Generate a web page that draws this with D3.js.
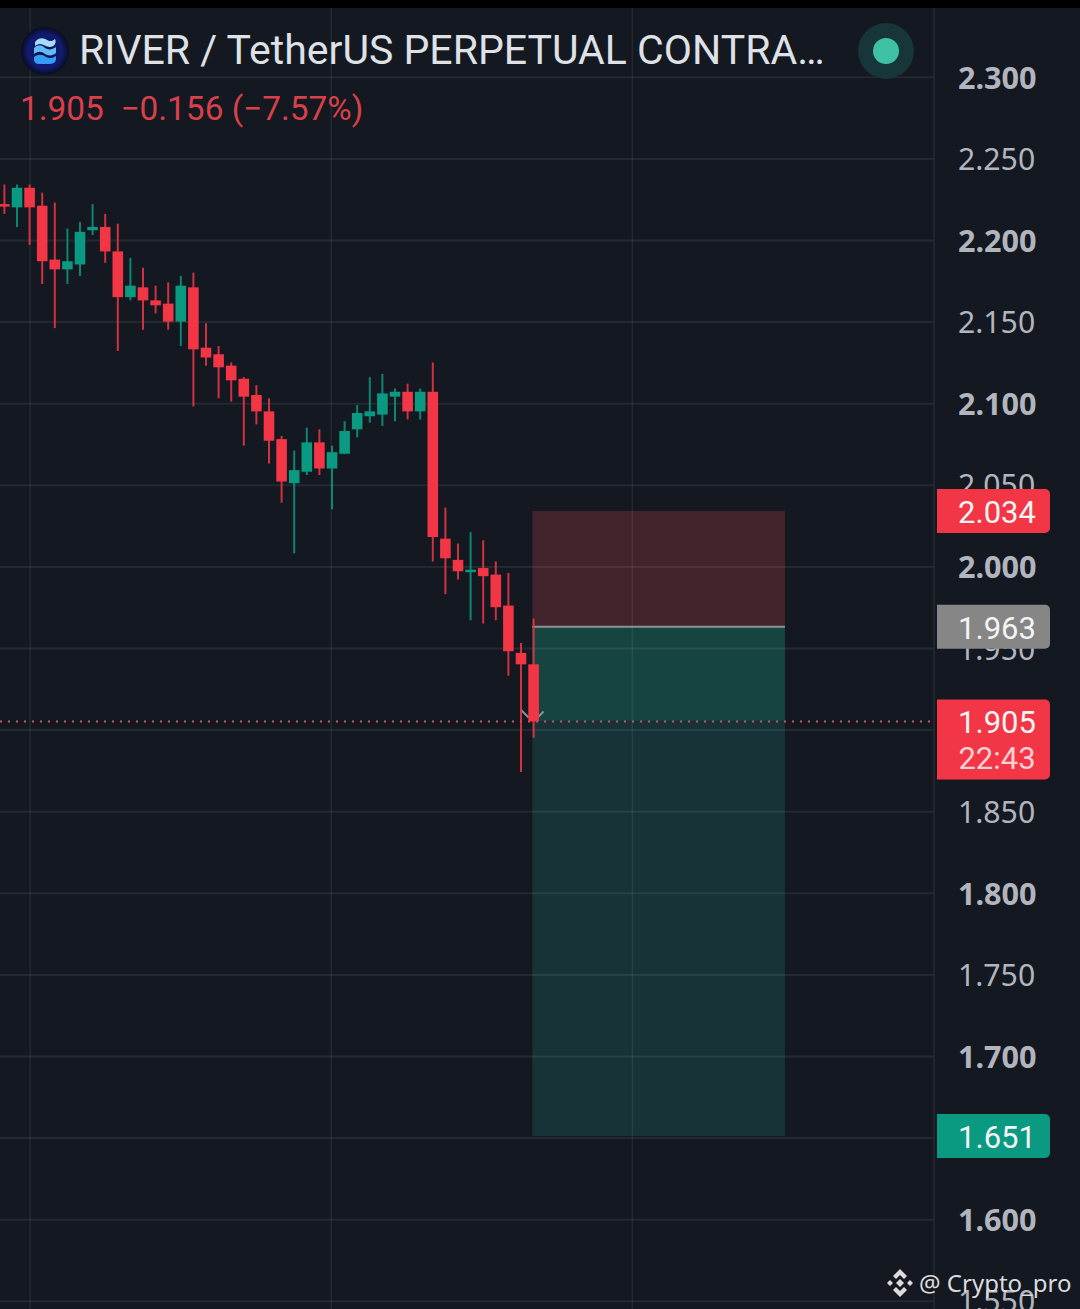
<!DOCTYPE html>
<html>
<head>
<meta charset="utf-8">
<script src="https://cdn.jsdelivr.net/npm/d3@7"></script>
<style>
  html, body { margin: 0; padding: 0; background: #141821; }
  svg { display: block; }
</style>
</head>
<body>
<div id="chart"></div>
<script>
// candles, oldest first
const opens = [2.222,2.220,2.232,2.221,2.188,2.182,2.185,2.206,2.208,2.193,2.165,2.171,2.163,2.161,2.150,2.171,2.134,2.130,2.123,2.115,2.105,2.095,2.078,2.051,2.058,2.076,2.060,2.069,2.084,2.092,2.093,2.104,2.107,2.095,2.107,2.017,2.004,1.997,1.999,1.995,1.976,1.947,1.940];
const highs = [2.234,2.234,2.234,2.229,2.223,2.207,2.211,2.222,2.216,2.210,2.189,2.183,2.172,2.174,2.178,2.180,2.149,2.135,2.125,2.116,2.111,2.103,2.080,2.071,2.085,2.084,2.074,2.089,2.099,2.116,2.118,2.109,2.112,2.109,2.125,2.036,2.014,2.021,2.016,2.003,1.996,1.953,1.968];
const lows = [2.216,2.208,2.197,2.173,2.146,2.173,2.178,2.203,2.186,2.132,2.163,2.145,2.155,2.145,2.135,2.098,2.123,2.103,2.101,2.074,2.087,2.063,2.039,2.008,2.056,2.056,2.035,2.069,2.079,2.088,2.086,2.089,2.090,2.090,2.003,1.983,1.992,1.967,1.965,1.967,1.933,1.874,1.895];
const closes = [2.221,2.232,2.220,2.187,2.182,2.187,2.205,2.208,2.193,2.165,2.172,2.163,2.160,2.150,2.172,2.133,2.128,2.122,2.114,2.104,2.095,2.077,2.052,2.059,2.076,2.060,2.070,2.083,2.094,2.095,2.106,2.107,2.095,2.107,2.018,2.005,1.997,1.998,1.994,1.975,1.948,1.940,1.905];

const priceTicks = [2.3,2.25,2.2,2.15,2.1,2.05,2,1.95,1.9,1.85,1.8,1.75,1.7,1.65,1.6,1.55];
const boldTicks = [2.3,2.2,2.1,2,1.8,1.7,1.6];
const timeGrid = [2,25.9,49.8];

const lastPrice = 1.905;
const stopPrice = 2.034;
const entryPrice = 1.963;
const targetPrice = 1.651;
const zoneStart = 41.9;
const zoneEnd = 61.95;

const titleText = "RIVER / TetherUS PERPETUAL CONTRA\u2026";
const quoteText = "1.905  \u22120.156 (\u22127.57%)";
const countdown = "22:43";

const width = 1080, height = 1309;
const axisX = 934;
const red = "#f23645", green = "#0a9981";

const x = d3.scaleLinear().domain([0, 42]).range([4.4, 533.6]);
const y = d3.scaleLinear().domain([2.2, 1.6]).range([240, 1219.2]);
const fmt = d3.format(".3f");

const svg = d3.select("#chart").append("svg")
    .attr("width", width)
    .attr("height", height)
    .style("font-family", "Roboto, sans-serif");

svg.append("rect").attr("width", width).attr("height", height).attr("fill", "#141821");

// position zones
const zones = [
    {top: stopPrice, bottom: entryPrice, fill: "#42232b"},
    {top: entryPrice, bottom: lastPrice, fill: "#16453f"},
    {top: lastPrice, bottom: targetPrice, fill: "#173338"}
];
svg.selectAll(".zone").data(zones).join("rect")
    .attr("class", "zone")
    .attr("x", x(zoneStart))
    .attr("width", x(zoneEnd) - x(zoneStart))
    .attr("y", d => y(d.top))
    .attr("height", d => y(d.bottom) - y(d.top))
    .attr("fill", d => d.fill);

// grid goes over the zones, they show through in the original
svg.append("g")
    .call(d3.axisLeft(y).tickValues(priceTicks).tickSize(-axisX).tickFormat(""))
    .call(g => g.select(".domain").remove())
    .call(g => g.selectAll("line").attr("stroke", "#fff").attr("stroke-opacity", 0.07).attr("stroke-width", 2));

svg.append("g")
    .attr("transform", `translate(0,${height})`)
    .call(d3.axisTop(x).tickValues(timeGrid).tickSize(height).tickFormat(""))
    .call(g => g.select(".domain").remove())
    .call(g => g.selectAll("line").attr("stroke", "#fff").attr("stroke-opacity", 0.07).attr("stroke-width", 1.5));

svg.append("line")
    .attr("x1", axisX).attr("x2", axisX)
    .attr("y1", 0).attr("y2", height)
    .attr("stroke", "#252933").attr("stroke-width", 1.5);

svg.append("line")
    .attr("x1", x(zoneStart)).attr("x2", x(zoneEnd))
    .attr("y1", y(entryPrice)).attr("y2", y(entryPrice))
    .attr("stroke", "#8f9291").attr("stroke-width", 2);

// last price line
svg.append("line")
    .attr("x1", 0).attr("x2", axisX)
    .attr("y1", y(lastPrice)).attr("y2", y(lastPrice))
    .attr("stroke", "#c9555f").attr("stroke-width", 2)
    .attr("stroke-dasharray", "2 6");

// small arrow behind the last candle
const arrowX = x(42), arrowY = y(lastPrice);
svg.append("path")
    .attr("d", `M${arrowX - 13},${arrowY - 12}L${arrowX - 5},${arrowY - 4}M${arrowX + 10},${arrowY - 10}L${arrowX + 4},${arrowY - 4}`)
    .attr("fill", "none").attr("stroke", "#8d8f92").attr("stroke-width", 2);

// candles
const candles = d3.range(opens.length);
const colorOf = i => closes[i] >= opens[i] ? green : red;

svg.selectAll(".wick").data(candles).join("line")
    .attr("class", "wick")
    .attr("x1", i => x(i)).attr("x2", i => x(i))
    .attr("y1", i => y(highs[i])).attr("y2", i => y(lows[i]))
    .attr("stroke", colorOf).attr("stroke-opacity", 0.85).attr("stroke-width", 2);

svg.selectAll(".body").data(candles).join("rect")
    .attr("class", "body")
    .attr("x", i => x(i) - 5.3)
    .attr("width", 10.6)
    .attr("y", i => y(Math.max(opens[i], closes[i])))
    .attr("height", i => Math.max(2.5, Math.abs(y(opens[i]) - y(closes[i]))))
    .attr("fill", colorOf);

// price axis labels
svg.append("g")
    .attr("transform", `translate(${axisX + 24},1.5)`)
    .call(d3.axisRight(y).tickValues(priceTicks).tickSize(0).tickPadding(0).tickFormat(fmt))
    .call(g => g.select(".domain").remove())
    .call(g => g.selectAll("text")
        .attr("x", 0)
        .attr("fill", "#b2b5be")
        .style("font-family", "'Noto Sans', sans-serif")
        .style("font-size", d => boldTicks.includes(d) ? "30.6px" : "30.2px")
        .style("font-weight", d => boldTicks.includes(d) ? 700 : 400));

// price tags on the axis
const tags = [
    {price: stopPrice, fill: red, h: 44},
    {price: entryPrice, fill: "#868686", h: 44},
    {price: lastPrice, fill: red, h: 80, sub: countdown},
    {price: targetPrice, fill: green, h: 44}
];
const tag = svg.selectAll(".tag").data(tags).join("g")
    .attr("class", "tag")
    .attr("transform", d => `translate(937,${y(d.price) - 22})`);
tag.append("path")
    .attr("d", d => `M0,0H108a5,5 0 0 1 5,5V${d.h - 5}a5,5 0 0 1 -5,5H0Z`)
    .attr("fill", d => d.fill);
tag.append("text")
    .attr("x", 60).attr("y", 34)
    .attr("text-anchor", "middle")
    .attr("fill", "#f4f4f4")
    .style("font-size", "31px")
    .text(d => fmt(d.price));
tag.filter(d => d.sub).append("text")
    .attr("x", 60).attr("y", 70)
    .attr("text-anchor", "middle")
    .attr("fill", "#fbd0d4")
    .style("font-size", "31px")
    .text(d => d.sub);

// header
svg.append("rect").attr("width", width).attr("height", 8).attr("fill", "#000");

const logo = svg.append("g").attr("transform", "translate(45,51)");
const logoGrad = svg.append("defs").append("radialGradient").attr("id", "logoGrad");
logoGrad.append("stop").attr("offset", "0%").attr("stop-color", "#0b1044");
logoGrad.append("stop").attr("offset", "70%").attr("stop-color", "#121c72");
logoGrad.append("stop").attr("offset", "100%").attr("stop-color", "#090c22");
logo.append("circle").attr("r", 24).attr("fill", "url(#logoGrad)");
logo.append("path")
    .attr("d", "M-10,-9C-6,-14 -1,-13 2,-11C5,-9 8,-10 10,-12C12,-8 9,-4 5,-4C1,-4 -2,-7 -5,-7C-7,-7 -9,-6 -10,-5Z")
    .attr("fill", "#a6dcfb");
logo.append("path")
    .attr("d", "M-11,-3C-7,-7 -3,-6 0,-3C3,-1 7,-1 11,-4V2C8,5 3,5 0,3C-4,0 -7,0 -11,3Z")
    .attr("fill", "#62baf7");
logo.append("path")
    .attr("d", "M-11,6C-7,3 -3,3 1,6C5,8 8,7 11,5V9C10,12 7,13 4,13H-6C-9,13 -11,11 -11,9Z")
    .attr("fill", "#359bf3");

svg.append("text")
    .attr("x", 79).attr("y", 64)
    .attr("fill", "#dfe1e6")
    .style("font-size", "41px")
    .text(titleText);

svg.append("text")
    .attr("x", 20).attr("y", 120)
    .attr("fill", "#d8404c")
    .style("font-size", "33.4px")
    .style("white-space", "pre")
    .text(quoteText);

svg.append("circle").attr("cx", 886).attr("cy", 51).attr("r", 28).attr("fill", "#17363a");
svg.append("circle").attr("cx", 886).attr("cy", 51).attr("r", 13).attr("fill", "#3fc1a5");

// watermark
const mark = svg.append("g").attr("transform", "translate(900,1283)").attr("fill", "#dcdcdc");
mark.append("path").attr("d", "M0,-14L7,-7L4,-4L0,-8L-4,-4L-7,-7ZM0,14L7,7L4,4L0,8L-4,4L-7,7ZM0,-4L4,0L0,4L-4,0ZM-10,-3L-7,0L-10,3L-13,0ZM10,-3L13,0L10,3L7,0Z");
svg.append("text")
    .attr("x", 919).attr("y", 1292)
    .attr("fill", "#dcdcdc")
    .style("font-family", "'Noto Sans', sans-serif")
    .style("font-size", "24px")
    .text("@ Crypto_pro");
</script>
</body>
</html>
